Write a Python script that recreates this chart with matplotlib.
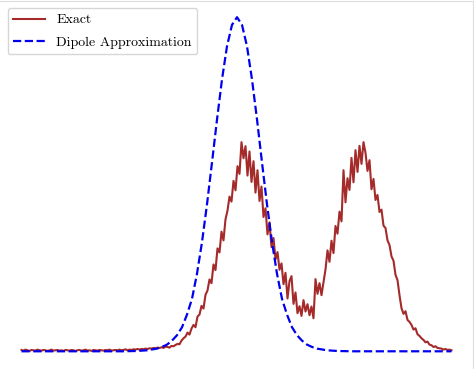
import matplotlib
matplotlib.use("Agg")
import matplotlib.pyplot as plt
import numpy as np

plt.rcParams["font.family"] = "serif"
plt.rcParams["font.serif"] = ["cmr10", "DejaVu Serif"]
plt.rcParams["mathtext.fontset"] = "cm"
plt.rcParams["axes.formatter.use_mathtext"] = True

### Exact spectrum, sampled on a uniform energy grid (arbitrary units)
exact_energy = np.linspace(0.0, 10.0, 216)
exact_values = [
    0.4, 0.2, 0.5, 0.3, 0.1, 0.4, 0.3, 0.2, 0.5, 0.3,
    0.2, 0.4, 0.3, 0.1, 0.3, 0.5, 0.2, 0.3, 0.4, 0.2,
    0.3, 0.1, 0.4, 0.3, 0.2, 0.4, 0.3, 0.1, 0.3, 0.4,
    0.2, 0.3, 0.5, 0.2, 0.3, 0.1, 0.4, 0.3, 0.2, 0.4,
    0.3, 0.2, 0.4, 0.3, 0.5, 0.2, 0.3, 0.4, 0.3, 0.5,
    0.3, 0.4, 0.6, 0.3, 0.5, 0.4, 0.6, 0.5, 0.7, 0.5,
    0.7, 0.6, 0.8, 0.7, 0.9, 0.8, 1.0, 0.9, 1.1, 1.0,
    1.2, 1.0, 1.4, 1.3, 1.1, 1.6, 1.5, 1.9, 2.2, 2.1,
    3.2, 3.9, 4.4, 5.6, 5.0, 6.8, 7.9, 7.2, 10.4, 11.0,
    13.6, 12.8, 16.9, 18.2, 21.5, 20.4, 26.0, 24.3, 30.8, 29.6,
    35.8, 33.2, 39.5, 42.1, 46.3, 44.8, 51.0, 48.2, 55.4, 53.1,
    62.6, 57.8, 61.4, 52.6, 59.8, 50.7, 56.9, 47.5, 54.2, 45.0,
    49.3, 40.2, 42.8, 35.0, 38.6, 31.2, 33.9, 27.5, 29.7, 24.4,
    26.3, 20.1, 23.5, 15.8, 21.0, 22.5, 14.2, 17.6, 11.4, 13.5,
    10.6, 15.3, 11.9, 14.1, 10.8, 13.4, 9.9, 21.6, 17.2, 20.4,
    16.8, 20.7, 24.5, 30.2, 26.8, 33.1, 29.4, 37.5, 35.2, 41.8,
    38.9, 54.2, 44.6, 51.8, 48.3, 57.9, 50.6, 60.2, 53.7, 61.5,
    56.1, 62.6, 59.4, 54.0, 57.2, 48.5, 51.6, 45.3, 46.8, 41.7,
    42.4, 37.6, 36.9, 33.2, 31.8, 28.4, 27.1, 22.9, 21.3, 16.8,
    12.9, 11.2, 12.0, 9.4, 8.8, 7.9, 6.5, 6.9, 5.1, 4.6,
    3.9, 3.4, 2.7, 2.9, 2.0, 1.8, 1.3, 1.5, 1.0, 0.9,
    0.8, 0.5, 0.7, 0.4, 0.5, 0.3,
]

### Dipole approximation, read at irregular energies
dipole_energy = [
    0.000, 2.337, 2.686, 2.919, 3.151, 3.267, 3.384, 3.500, 3.616, 3.733,
    3.849, 3.965, 4.081, 4.198, 4.314, 4.430, 4.547, 4.663, 4.779, 4.895,
    5.012,
    5.128, 5.244, 5.360, 5.477, 5.593, 5.709, 5.826, 5.942, 6.058, 6.174,
    6.291, 6.407, 6.523, 6.640, 6.756, 6.872, 7.105, 7.337, 7.686, 10.000,
]
dipole_values = [
    0.0, 0.0, 0.1, 0.3, 0.8, 1.3, 2.0, 3.2, 4.8, 7.2,
    11.0, 15.7, 23.2, 32.7, 44.0, 56.5, 69.4, 81.4, 91.3, 97.7,
    100.0,
    97.7, 91.3, 81.4, 69.4, 56.5, 44.0, 32.7, 23.2, 15.7, 11.0,
    7.2, 4.8, 3.2, 2.0, 1.3, 0.8, 0.3, 0.1, 0.0, 0.0,
]

figure = plt.figure(figsize=(4.74, 3.69), dpi=100)
axis = figure.add_axes([0.0, 1.0 / 369, 473.0 / 474, 367.5 / 369])

axis.plot(exact_energy, exact_values, color="#a52a2a", lw=1.5, label="Exact")
axis.plot(dipole_energy, dipole_values, color="#0000ee", lw=1.6, ls="--",
          label="Dipole Approximation")

axis.set_xticks([])
axis.set_yticks([])
for side in ["left", "bottom"]:
    axis.spines[side].set_visible(False)
for side in ["top", "right"]:
    axis.spines[side].set_color("#dddddd")

axis.legend(loc="upper left", fontsize=10, framealpha=0.8,
            borderaxespad=0.55, handlelength=2.3, labelspacing=0.7)

figure.savefig("out.png", dpi=100)
